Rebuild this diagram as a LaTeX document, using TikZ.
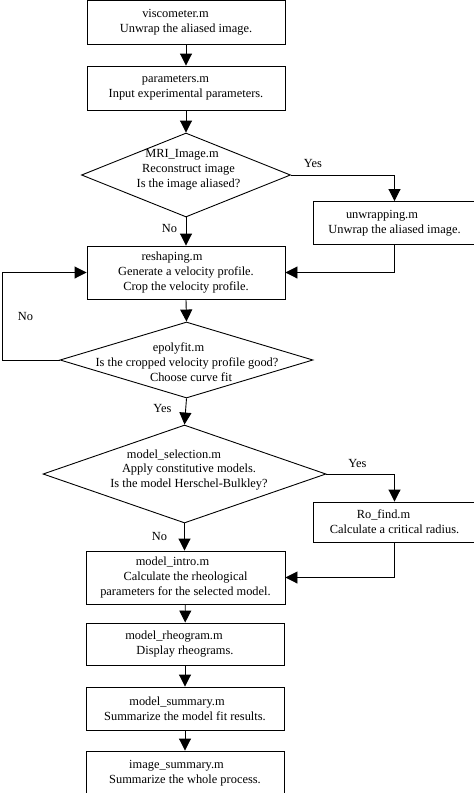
\documentclass[tikz,border=0pt]{standalone}
\usepackage{fontspec}
\setmainfont{Liberation Serif}
\usetikzlibrary{arrows.meta,shapes.geometric}
\begin{document}
\begin{tikzpicture}[x=1pt,y=-1pt,
  font=\fontsize{12.4}{14.8}\selectfont,
  line width=0.9pt,
  box/.style={draw, rectangle, minimum width=198pt, inner sep=0pt, align=center},
  dia/.style={draw, diamond, inner sep=0pt},
  dtxt/.style={align=center, inner sep=0pt},
  arr/.style={-{Triangle[length=12pt,width=12pt]}},
  lbl/.style={inner sep=0pt}
]
\useasboundingbox (0,0) rectangle (474,793);

% boxes
\node[box, minimum height=44pt] (visc) at (186,22.5) {viscometer.m\hspace*{21pt}\\Unwrap the aliased image.};
\node[box, minimum height=44pt] (param) at (186,88) {parameters.m\hspace*{21pt}\\Input experimental parameters.};
\node[dia, minimum width=209pt, minimum height=84pt] (d1) at (186,175) {};
\node[dtxt] (d1t) at (188.5,170) {MRI\_Image.m\hspace*{13pt}\\Reconstruct image\\Is the image aliased?};
\node[box, minimum width=163pt, minimum height=43pt] (unw) at (394.5,223) {unwrapping.m\hspace*{25pt}\\Unwrap the aliased image.};
\node[box, minimum height=53pt] (resh) at (186,272.5) {reshaping.m\hspace*{28pt}\\Generate a velocity profile.\\Crop the velocity profile.};
\node[dia, minimum width=253pt, minimum height=76pt] (d2) at (186.5,360) {};
\node[dtxt] (d2t) at (187,362) {epolyfit.m\hspace*{17pt}\\Is the cropped velocity profile good?\\Choose curve fit\hspace*{-8pt}};
\node[dia, minimum width=283pt, minimum height=98pt] (d3) at (184.5,474) {};
\node[dtxt] (d3t) at (189,470) {model\_selection.m\hspace*{30pt}\\Apply constitutive models.\\Is the model Herschel-Bulkley?};
\node[box, minimum width=163pt, minimum height=40pt] (ro) at (394.5,522) {Ro\_find.m\hspace*{22pt}\\Calculate a critical radius.};
\node[box, minimum width=199pt, minimum height=53pt] (intro) at (185.5,577.5) {model\_intro.m\hspace*{26pt}\\Calculate the rheological\hspace*{-4pt}\\parameters for the selected model.};
\node[box, minimum height=42pt] (rheo) at (185,644) {model\_rheogram.m\hspace*{22pt}\\Display rheograms.};
\node[box, minimum height=43pt] (summ) at (185,708.5) {model\_summary.m\hspace*{16pt}\\Summarize the model fit results.};
\node[box, minimum height=44pt] (imgs) at (185,773) {image\_summary.m\hspace*{17pt}\\Summarize the whole process.};

% labels
\node[lbl] (y1) at (313,163) {Yes};
\node[lbl] (n1) at (169.5,228) {No};
\node[lbl] (n2) at (25.5,316) {No};
\node[lbl] (y2) at (162.5,408) {Yes};
\node[lbl] (y3) at (357.5,463) {Yes};
\node[lbl] (n3) at (159.5,536) {No};

% connectors
\coordinate (lp) at (2.5,360);
\draw[arr] (visc) -- (param);
\draw[arr] (param) -- (d1.north);
\draw[arr] (d1.east) -| (unw.north);
\draw[arr] (d1.south) -- (resh.north);
\draw[arr] (unw.south) |- (resh.east);
\draw[arr] (resh.south) -- (d2.north);
\draw[arr] (d2.west) -- (lp) |- (resh.west);
\draw[arr] (d2.south) -- (d3.north);
\draw[arr] (d3.east) -| (ro.north);
\draw[arr] (d3.south) -- (d3.south |- intro.north);
\draw[arr] (ro.south) |- (intro.east);
\draw[arr] (intro) -- (rheo);
\draw[arr] (rheo) -- (summ);
\draw[arr] (summ) -- (imgs);
\end{tikzpicture}
\end{document}
